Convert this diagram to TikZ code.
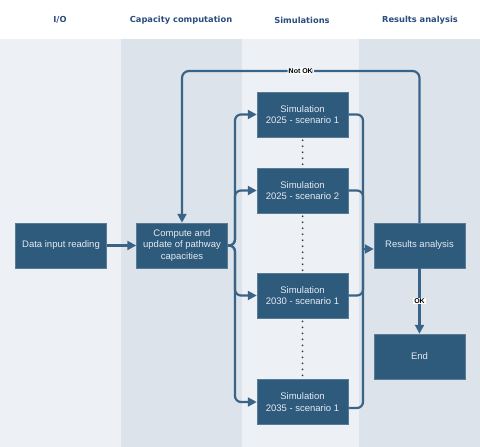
\documentclass[tikz,border=0pt]{standalone}
\usepackage{fontspec}
\setmainfont{Liberation Sans}
\newfontfamily\hdrfont{DejaVu Sans}
\usetikzlibrary{arrows.meta,calc}
\definecolor{lanelight}{HTML}{EDF1F5}
\definecolor{lanedark}{HTML}{DCE3EA}
\definecolor{hdrc}{HTML}{2B4C7E}
\definecolor{boxc}{HTML}{2E5A7C}
\definecolor{boxtext}{HTML}{E4EBF2}
\definecolor{linec}{HTML}{3A6487}
\tikzset{
  hdr/.style={font=\hdrfont\bfseries\fontsize{8.3}{10}\selectfont, text=hdrc, anchor=center},
  stepbox/.style={rectangle, fill=boxc, draw=boxc!80!white, line width=0.5pt, minimum width=91pt, minimum height=45pt, text=boxtext, align=center, inner sep=2pt, font=\fontsize{9.5}{11.5}\selectfont},
  conn/.style={draw=linec, line width=2.2pt, -{Triangle[length=9pt,width=9pt]}},
  plain/.style={draw=linec, line width=2.2pt},
  dotline/.style={draw=black!75, line width=2pt, line cap=round, dash pattern=on 0pt off 6pt},
  lbl/.style={fill=white, text=black, inner sep=1pt, font=\bfseries\fontsize{7}{8}\selectfont}
}
\begin{document}
\begin{tikzpicture}[x=1pt,y=-1pt]
\useasboundingbox (0,0) rectangle (480,447);
\fill[white] (0,0) rectangle (480,447);
\fill[lanelight] (0,39) rectangle (121,447);
\fill[lanedark] (121,39) rectangle (242,447);
\fill[lanelight] (242,39) rectangle (359,447);
\fill[lanedark] (359,39) rectangle (480,447);
\node[hdr] (h1) at (60,20) {I/O};
\node[hdr] (h2) at (181,20) {Capacity computation};
\node[hdr] (h3) at (302,20) {Simulations};
\node[hdr] (h4) at (420,20) {Results analysis};

\node[stepbox] (data) at (61,245.5) {Data input reading};
\node[stepbox] (comp) at (182,245.5) {Compute and\\update of pathway\\capacities};
\node[stepbox] (sim1) at (302.5,114.5) {Simulation\\2025 - scenario 1};
\node[stepbox] (sim2) at (302.5,190.5) {Simulation\\2025 - scenario 2};
\node[stepbox] (sim3) at (302.5,295.5) {Simulation\\2030 - scenario 1};
\node[stepbox] (sim4) at (302.5,402) {Simulation\\2035 - scenario 1};
\node[stepbox] (res) at (419.5,245.5) {Results analysis};
\node[stepbox] (end) at (419.5,356.5) {End};

\coordinate (lb) at (235,245.5);
\coordinate (rb) at (363,249);
\coordinate (top) at (300,71);

\draw[conn] (data) -- (comp);
\draw[conn, rounded corners=6pt] (comp.east) -- (lb) |- (sim1.west);
\draw[conn, rounded corners=6pt] (comp.east) -- (lb) |- (sim2.west);
\draw[conn, rounded corners=6pt] (comp.east) -- (lb) |- (sim3.west);
\draw[conn, rounded corners=6pt] (comp.east) -- (lb) |- (sim4.west);

\draw[plain, rounded corners=6pt] (sim1.east) -| (rb);
\draw[plain, rounded corners=6pt] (sim2.east) -| (rb);
\draw[plain, rounded corners=6pt] (sim3.east) -| (rb);
\draw[plain, rounded corners=6pt] ([yshift=-6pt]sim4.east) -| (rb);
\draw[conn] (rb) -- (rb -| res.west);

\draw[dotline] ([yshift=-3pt]sim1.south) -- (sim2.north);
\draw[dotline] ([yshift=-3pt]sim2.south) -- (sim3.north);
\draw[dotline] ([yshift=-3pt]sim3.south) -- (sim4.north);

\draw[conn, rounded corners=7pt] (res.north) -- (res.north |- top) -- node[lbl] {Not OK} (comp.north |- top) -- (comp.north);
\draw[conn] (res.south) -- node[lbl] {OK} (end.north);
\end{tikzpicture}
\end{document}
